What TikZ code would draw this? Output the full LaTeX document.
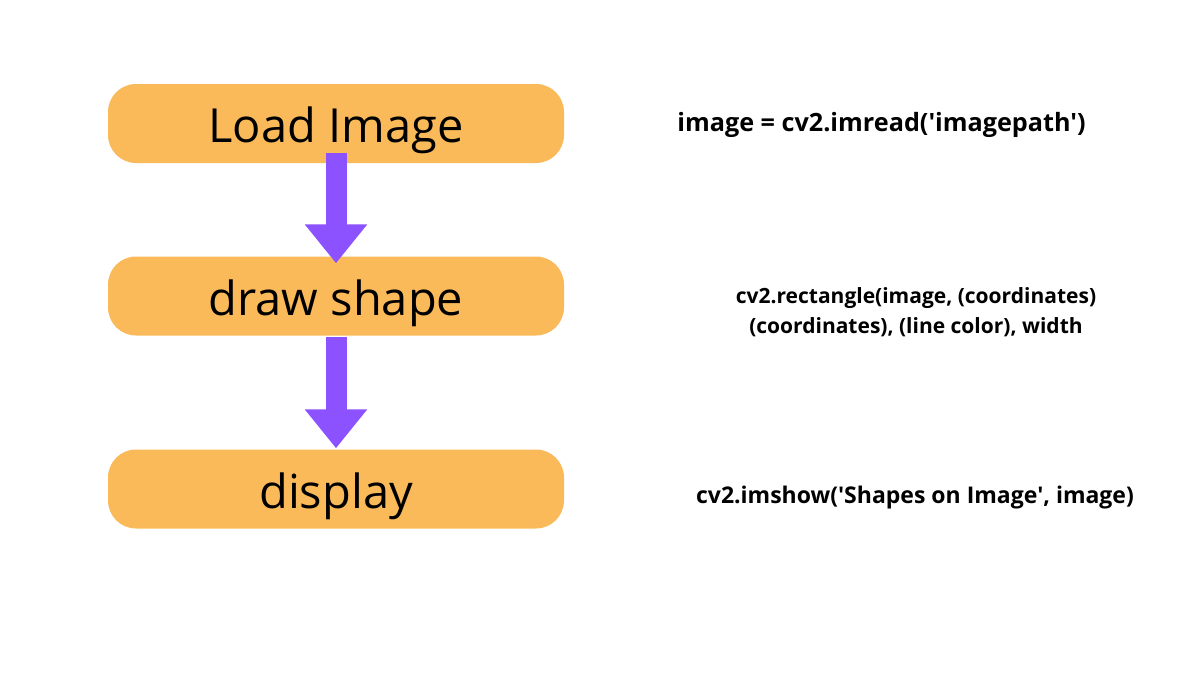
\documentclass[tikz,border=0pt]{standalone}
\usepackage{fontspec}
\setmainfont{Open Sans}
\newfontfamily\codefont{Open Sans}[Ligatures=TeXOff]
\usetikzlibrary{arrows.meta}
\definecolor{boxorange}{HTML}{FBBA5A}
\definecolor{arrowpurple}{HTML}{8C52FF}
\begin{document}
\begin{tikzpicture}[x=1pt,y=-1pt,
  stepbox/.style={fill=boxorange, rounded corners=28pt, minimum width=456pt, minimum height=79pt, inner sep=0pt, text height=38pt, text depth=0pt, font=\fontsize{47}{50}\selectfont},
  code/.style={font=\codefont\bfseries, align=center, inner sep=0pt},
  flow/.style={arrowpurple, line width=21pt, -{Triangle[width=60pt,length=39pt]}}]
\fill[white] (0,0) rectangle (1200,675);
\path[use as bounding box] (0,0) rectangle (1200,675);
\node[stepbox] (load) at (336,123.5) {Load Image};
\node[stepbox] (draw) at (336,296) {draw shape};
\node[stepbox] (disp) at (336,489) {display};
\draw[flow] ([yshift=10pt]load.south) -- ([yshift=-7pt]draw.north);
\draw[flow] ([yshift=-1pt]draw.south) -- ([yshift=1pt]disp.north);
\node[code, font=\codefont\bfseries\fontsize{25.2}{30}\selectfont] (c1) at (881.5,125) {image = cv2.imread('imagepath')};
\node[code, font=\codefont\bfseries\fontsize{21}{30}\selectfont] (c2) at (916,312) {cv2.rectangle(image, (coordinates)\\(coordinates), (line color), width};
\node[code, font=\codefont\bfseries\fontsize{23}{30}\selectfont] (c3) at (915,498) {cv2.imshow('Shapes on Image', image)};
\end{tikzpicture}
\end{document}
